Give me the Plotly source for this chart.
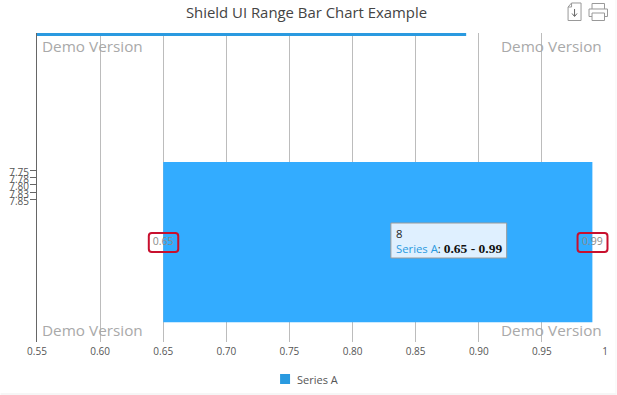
import plotly.graph_objects as go

# ---- data ----
categories = [7, 8]
low_values = [0.55, 0.65]
high_values = [0.89, 0.99]
series_name = "Series A"
x_ticks = [0.55, 0.60, 0.65, 0.70, 0.75, 0.80, 0.85, 0.90, 0.95, 1.0]
x_tick_labels = ["0.55", "0.60", "0.65", "0.70", "0.75", "0.80", "0.85", "0.90", "0.95", "1"]
y_ticks = [7.75, 7.775, 7.80, 7.825, 7.85]
y_tick_labels = ["7.75", "7.78", "7.80", "7.83", "7.85"]
label_category = 8
label_values = [0.65, 0.99]
label_texts = ["0.65", "0.99"]

W, H = 617, 395
L, R, T, B = 36.5, 605.5, 33, 342
BLUE, BLUE_HOVER = "#2A9AE0", "#33ACFF"
SANS = "Open Sans"


def px(x):
    return (x - L) / (R - L)


def py(y):
    return (B - y) / (B - T)


def path(points, close=False):
    s = "M" + " L".join(f"{px(a):.5f},{py(b):.5f}" for a, b in points)
    return s + (" Z" if close else "")


def rounded(x0, y0, x1, y1, r=3):
    a, b, c, d = px(x0), py(y0), px(x1), py(y1)
    rx, ry = r / (R - L), r / (B - T)
    return (f"M{a+rx:.5f},{b:.5f} L{c-rx:.5f},{b:.5f} Q{c:.5f},{b:.5f} {c:.5f},{b-ry:.5f} "
            f"L{c:.5f},{d+ry:.5f} Q{c:.5f},{d:.5f} {c-rx:.5f},{d:.5f} L{a+rx:.5f},{d:.5f} "
            f"Q{a:.5f},{d:.5f} {a:.5f},{d+ry:.5f} L{a:.5f},{b-ry:.5f} Q{a:.5f},{b:.5f} {a+rx:.5f},{b:.5f} Z")


fig = go.Figure()
fig.add_trace(go.Bar(
    y=categories,
    x=[h - l for l, h in zip(low_values, high_values)],
    base=low_values,
    orientation="h",
    width=0.5594,
    name=series_name,
    marker=dict(color=[BLUE, BLUE_HOVER], line=dict(width=0)),
    showlegend=False,
    hoverinfo="skip",
))
fig.add_trace(go.Scatter(
    x=label_values,
    y=[label_category] * len(label_values),
    mode="text",
    text=label_texts,
    textposition="middle center",
    textfont=dict(family=SANS, size=10.5, color="#8a8a8a"),
    showlegend=False,
    hoverinfo="skip",
))

line_icon = dict(color="#999999", width=1)
shapes = [
    # tooltip box
    dict(type="rect", xref="paper", yref="paper", x0=px(391), x1=px(507), y0=py(258), y1=py(223),
         fillcolor="#DFF0FF", line=dict(color="#9a9a9a", width=1)),
    # red highlight boxes around the two value labels
    dict(type="path", xref="paper", yref="paper", path=rounded(148.5, 233, 178, 252),
         line=dict(color="#C8102E", width=2)),
    dict(type="path", xref="paper", yref="paper", path=rounded(578, 233, 608, 252),
         line=dict(color="#C8102E", width=2)),
    # export icon
    dict(type="path", xref="paper", yref="paper",
         path=path([(572, 3), (581.5, 3), (581.5, 20.5), (568.5, 20.5), (568.5, 7)], True), line=line_icon),
    dict(type="path", xref="paper", yref="paper",
         path=path([(572, 3), (572, 7), (568.5, 7)]), line=line_icon),
    dict(type="path", xref="paper", yref="paper",
         path=path([(575, 9), (575, 16)]), line=dict(color="#666", width=1)),
    dict(type="path", xref="paper", yref="paper",
         path=path([(572.5, 13.5), (575, 16.5), (577.5, 13.5)]), line=dict(color="#666", width=1)),
    # print icon
    dict(type="path", xref="paper", yref="paper",
         path=path([(592.5, 9), (592.5, 3.5), (605, 3.5), (605, 9)]), line=line_icon),
    dict(type="path", xref="paper", yref="paper",
         path=path([(592.5, 16.5), (589.5, 16.5), (589.5, 9), (608, 9), (608, 16.5), (605, 16.5)]), line=line_icon),
    dict(type="path", xref="paper", yref="paper",
         path=path([(592.5, 13), (605, 13), (605, 20.5), (592.5, 20.5)], True), line=line_icon),
    # legend swatch
    dict(type="rect", xref="paper", yref="paper", x0=px(280), x1=px(290), y0=py(384), y1=py(374),
         fillcolor=BLUE, line=dict(width=0)),
    # faint page edge
    dict(type="rect", xref="paper", yref="paper", x0=px(0), x1=px(W), y0=py(395), y1=py(393),
         fillcolor="#f6f6f6", line=dict(width=0)),
    dict(type="rect", xref="paper", yref="paper", x0=px(616), x1=px(617), y0=py(395), y1=py(0),
         fillcolor="#f6f6f6", line=dict(width=0)),
]

demo_font = dict(family=SANS, size=15.3, color="#a9a9a9")
annotations = [
    dict(text="Demo Version", xref="paper", yref="paper", x=px(xp), y=py(yp), showarrow=False,
         font=demo_font, xanchor=xa, yanchor="middle")
    for xp, yp, xa in [(39.5, 46.5, "left"), (604, 46.5, "right"),
                       (39.5, 330, "left"), (604, 330, "right")]
]
annotations.append(dict(
    text=("<span style='color:#222'>8</span><br>"
          "<span style='color:#2A9AE0'>Series A</span>: "
          "<span style='font-family:Liberation Serif;color:#111;font-size:13.5px'><b>0.65 - 0.99</b></span>"),
    xref="paper", yref="paper", x=px(394), y=py(224), xanchor="left", yanchor="top",
    showarrow=False, align="left", font=dict(family=SANS, size=11.3, color="#333"),
))
annotations.append(dict(
    text=series_name, xref="paper", yref="paper", x=px(295), y=py(379.5), xanchor="left", yanchor="middle",
    showarrow=False, font=dict(family=SANS, size=11, color="#555555"),
))

fig.update_layout(
    width=W, height=H,
    margin=dict(l=L, r=W - R, t=T, b=H - B, pad=0, autoexpand=False),
    paper_bgcolor="#ffffff",
    plot_bgcolor="#ffffff",
    title=dict(text="Shield UI Range Bar Chart Example", x=306.5 / W, xanchor="center", xref="container",
               y=1 - 13 / H, yanchor="middle", yref="container",
               font=dict(family=SANS, size=14.9, color="#444444")),
    xaxis=dict(range=[0.55, 1.0], tickvals=x_ticks, ticktext=x_tick_labels, showgrid=True,
               gridcolor="#bcbcbc", gridwidth=1, zeroline=False, showline=False, ticks="",
               tickfont=dict(family=SANS, size=10, color="#555555"), ticklabelstandoff=2),
    yaxis=dict(range=[8.349, 7.269], tickvals=y_ticks, ticktext=y_tick_labels, showgrid=False,
               zeroline=False, showline=True, linecolor="#666666", linewidth=1, ticks="outside",
               ticklen=6, tickcolor="#666666", tickwidth=1, ticklabelstandoff=-1, ticklabelshift=-2,
               tickfont=dict(family=SANS, size=10, color="#555555")),
    shapes=shapes,
    annotations=annotations,
    showlegend=False,
    hovermode=False,
)

fig.write_html("out.html", config=dict(displayModeBar=False),
               post_script="document.body.style.margin='0';")
